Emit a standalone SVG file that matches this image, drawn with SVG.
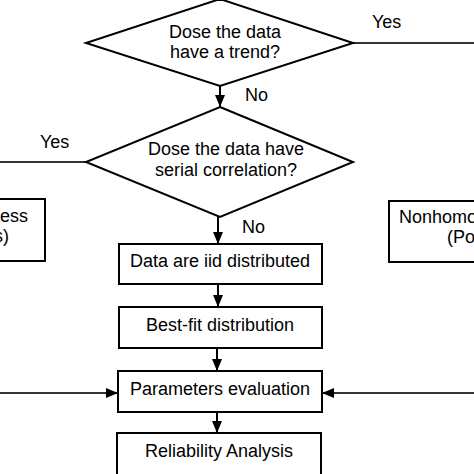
<svg xmlns="http://www.w3.org/2000/svg" width="474" height="474" viewBox="0 0 474 474">
<style>
.s{fill:#fff;stroke:#000;stroke-width:2}
.t{font-family:"Liberation Sans",Arial,sans-serif;font-size:18px;fill:#000}
.c{text-anchor:middle}
.l{stroke:#000;stroke-width:2;fill:none}
.g{stroke:#333;stroke-width:2;fill:none}
</style>
<defs>
<marker id="ah" viewBox="0 0 12 10" refX="12" refY="5" markerWidth="12" markerHeight="10" markerUnits="userSpaceOnUse" orient="auto">
<path d="M0,0 L12,5 L0,10 Z" fill="#000"/>
</marker>
</defs>
<rect width="474" height="474" fill="#fff"/>
<g id="connectors">
<line class="l" x1="220" y1="86" x2="220" y2="107" marker-end="url(#ah)"/>
<line class="g" x1="353" y1="43" x2="474" y2="43"/>
<line class="g" x1="0" y1="162" x2="86" y2="162"/>
<line class="l" x1="218" y1="217" x2="218" y2="244" marker-end="url(#ah)"/>
<line class="l" x1="218" y1="284" x2="218" y2="307" marker-end="url(#ah)"/>
<line class="l" x1="217" y1="348" x2="217" y2="371" marker-end="url(#ah)"/>
<line class="l" x1="217" y1="412" x2="217" y2="433" marker-end="url(#ah)"/>
<line class="g" x1="0" y1="393" x2="118" y2="393" marker-end="url(#ah)"/>
<line class="g" x1="474" y1="393" x2="322" y2="393" marker-end="url(#ah)"/>
<text class="t" x="372" y="28">Yes</text>
<text class="t" x="40" y="148">Yes</text>
<text class="t" x="245" y="101">No</text>
<text class="t" x="242" y="233">No</text>
</g>
<g id="trend">
<polygon class="s" points="220,-1 353,43 220,86 86,43"/>
<text class="t c" x="225" y="38">Dose the data</text>
<text class="t c" x="225" y="58">have a trend?</text>
</g>
<g id="serial">
<polygon class="s" points="220,107 353,162 220,217 86,162"/>
<text class="t c" x="226" y="155">Dose the data have</text>
<text class="t c" x="226" y="176">serial correlation?</text>
</g>
<g id="left-box">
<rect class="s" x="-5" y="199" width="50" height="62"/>
<text class="t" x="28" y="222" text-anchor="end">ess</text>
<text class="t" x="9" y="242" text-anchor="end">s)</text>
</g>
<g id="right-box">
<rect class="s" x="389" y="201" width="95" height="61"/>
<text class="t" x="399" y="223">Nonhomo</text>
<text class="t" x="447" y="243">(Po</text>
</g>
<g id="iid">
<rect class="s" x="119" y="244" width="203" height="40"/>
<text class="t c" x="220" y="267">Data are iid distributed</text>
</g>
<g id="bestfit">
<rect class="s" x="119" y="307" width="203" height="41"/>
<text class="t c" x="220" y="331">Best-fit distribution</text>
</g>
<g id="params">
<rect class="s" x="118" y="371" width="204" height="41"/>
<text class="t c" x="220" y="395">Parameters evaluation</text>
</g>
<g id="reliability">
<rect class="s" x="117" y="433" width="204" height="50"/>
<text class="t c" x="219" y="457">Reliability Analysis</text>
</g>
</svg>
